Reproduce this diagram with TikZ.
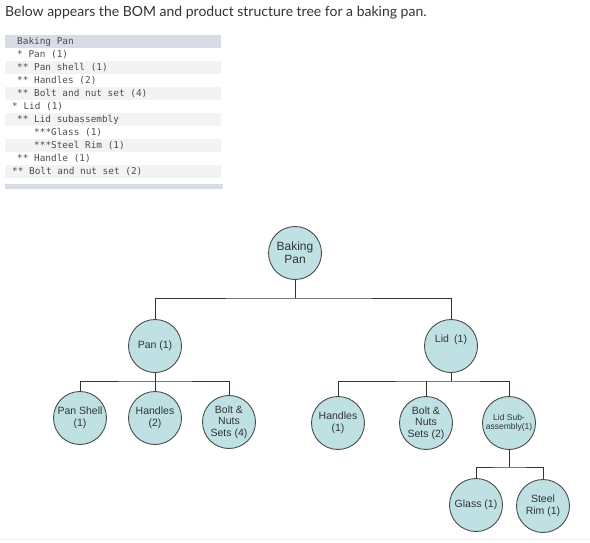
\documentclass[tikz,border=0pt]{standalone}
\usepackage{fontspec}
\setmainfont{Liberation Sans}
\setmonofont{DejaVu Sans Mono}
\newfontfamily\titlefont{Lato}
\usepackage{xcolor}

\definecolor{partfill}{HTML}{BFE1E4}
\definecolor{partedge}{HTML}{4A4A4A}
\definecolor{bomhead}{HTML}{D8DCE5}
\definecolor{bomrow}{HTML}{F3F3F3}
\definecolor{bomtext}{HTML}{4D4D4D}

\begin{document}
\begin{tikzpicture}[
    x=1pt, y=-1pt,
    part/.style={circle, draw=partedge, fill=partfill, line width=0.9pt, minimum size=53pt, inner sep=0pt, align=center, text=black!80, font=\fontsize{10.5}{11.5}\selectfont},
    rootpart/.style={part, font=\fontsize{12}{13}\selectfont},
    link/.style={draw=black!80, line width=0.9pt},
    bomline/.style={anchor=base west, inner sep=0pt, font=\ttfamily\fontsize{9.4}{10}\selectfont, text=bomtext}
]
\useasboundingbox (0,0) rectangle (590,543);
% Title
\node[anchor=base west, inner sep=0pt, font=\titlefont\fontsize{14}{15}\selectfont, text=black!80] (title) at (5,17) {Below appears the BOM and product structure tree for a baking pan.};
% --- BOM listing ---
\fill[bomhead] (5,35) rectangle (221,48);
\foreach \y in {61,87,113,139,165}
    \fill[bomrow] (5,\y) rectangle (221,\y+13);
\fill[bomhead] (5,184) rectangle (223,189);
\foreach \x/\txt [count=\i from 0] in {17/Baking Pan, 17/* Pan (1), 17/** Pan shell (1), 17/** Handles (2), 17/** Bolt and nut set (4), 12/* Lid (1), 17/** Lid subassembly, 34/***Glass (1), 34/***Steel Rim (1), 17/** Handle (1), 12/** Bolt and nut set (2)}
    \node[bomline] (bom\i) at (\x,44.5+13*\i) {\txt};
% --- Product structure tree ---
\node[rootpart] (root)    at (295,253) {Baking\\Pan};
\node[part]     (pan)     at (155,346) {Pan (1)};
\node[part]     (lid)     at (451,346) {Lid\enspace(1)\\[3pt]};
% level 2 under pan
\node[part]     (shell)   at (80,418)  {Pan Shell\\(1)};
\node[part]     (handles) at (155,418) {Handles\\(2)};
\node[part]     (bolts)   at (229,422) {Bolt \&\\Nuts\\Sets (4)};
% level 2 under lid
\node[part]     (handle)  at (338,423) {Handles\\(1)};
\node[part]     (boltsb)  at (426,423) {Bolt \&\\Nuts\\Sets (2)};
\node[part, font=\fontsize{8.5}{9.5}\selectfont] (lidsub) at (509,423) {Lid Sub-\\assembly(1)};
% level 3
\node[part]     (glass)   at (476,505) {Glass (1)};
\node[part]     (rim)     at (543,506) {Steel\\Rim (1)};
% --- Connectors ---
\coordinate (busroot) at (295,298);
\coordinate (buspan)  at (155,381);
\coordinate (buslid)  at (451,381);
\coordinate (bussub)  at (509,467);
\draw[link] (root) -- (busroot);
\draw[link] (pan) |- (busroot) -| (lid);
\draw[link] (pan) -- (buspan);
\draw[link] (shell) |- (buspan) -| (bolts);
\draw[link] (handles) -- (buspan);
\draw[link] (lid) -- (buslid);
\draw[link] (handle) |- (buslid) -| (lidsub);
\draw[link] (boltsb) -- (boltsb |- buslid);
\draw[link] (lidsub) -- (bussub);
\draw[link] (glass) |- (bussub) -| (rim);
% faint rule at the bottom
\draw[black!6] (0,539) -- (590,539);
\end{tikzpicture}
\end{document}
